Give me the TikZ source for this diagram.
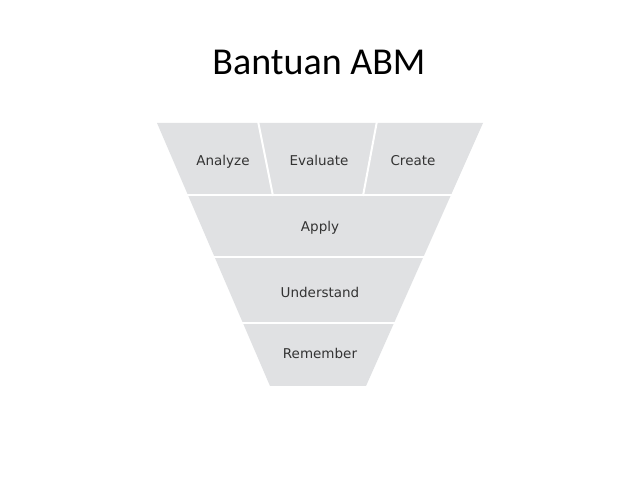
\documentclass[tikz,border=0pt]{standalone}
\usepackage{fontspec}
\newfontfamily\titlefont{Carlito}
\newfontfamily\labfont{DejaVu Sans}
\begin{document}
\begin{tikzpicture}[x=1pt,y=-1pt,
  lab/.style={font=\labfont\fontsize{13.5}{15}\selectfont, text=black!80, anchor=base},
  sep/.style={draw=white, line width=2pt}]
\useasboundingbox (0,0) rectangle (638,478);
\fill[white] (0,0) rectangle (638,478);
\node[font=\titlefont\fontsize{38}{42}\selectfont] (title) at (319,62) {Bantuan ABM};
\coordinate (tl) at (157,123); \coordinate (tr) at (483,123);
\coordinate (bl) at (270,386); \coordinate (br) at (366,386);
\fill[fill={rgb,255:red,224;green,225;blue,227}] (tl) -- (tr) -- (br) -- (bl) -- cycle;
\draw[sep] (150,195) -- (490,195);
\draw[sep] (150,257) -- (490,257);
\draw[sep] (150,323) -- (490,323);
\draw[sep] (258,121) -- (273,196);
\draw[sep] (377,121) -- (363,196);
\node[lab] (analyze) at (223,166) {Analyze};
\node[lab] (evaluate) at (319,166) {Evaluate};
\node[lab] (create) at (413,166) {Create};
\node[lab] (apply) at (320,232) {Apply};
\node[lab] (understand) at (320,298) {Understand};
\node[lab] (remember) at (320,359) {Remember};
\end{tikzpicture}
\end{document}
